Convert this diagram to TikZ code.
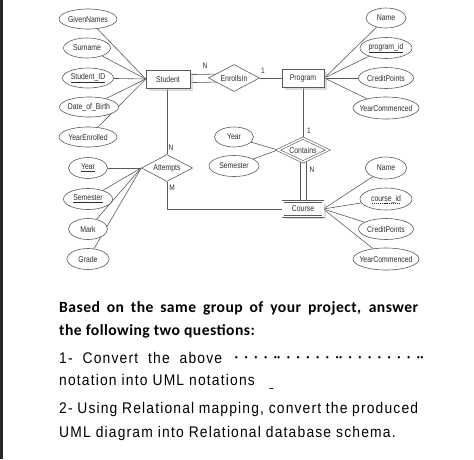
\documentclass[tikz,border=0pt]{standalone}
\usepackage{fontspec}
\usetikzlibrary{shapes.geometric,shadows,backgrounds}
\newfontfamily\erfont[FakeStretch=0.82]{Liberation Sans}
\newfontfamily\calib[LetterSpace=3]{Carlito}
\newfontfamily\narrow[FakeStretch=0.9,LetterSpace=7.6]{Liberation Sans}
\newcommand\mb[1]{\makebox[0pt]{#1}}
\newcommand\dul[1]{\setbox0=\hbox{#1}\rlap{\raisebox{-1.8pt}{\hbox to \wd0{\xleaders\hbox to 2pt{\hss\rule{1.2pt}{0.4pt}\hss}\hfill}}}\box0}
\definecolor{ink}{HTML}{2E2E2E}
\definecolor{edge}{HTML}{5A5A5A}
\begin{document}
\begin{tikzpicture}[x=1pt,y=-1pt,
 every node/.style={font=\erfont\fontsize{8.4}{9}\selectfont, text=ink},
 attr/.style={ellipse, draw=edge, line width=0.6pt, inner sep=0pt, fill=white},
 ent/.style={rectangle, draw=edge, line width=0.6pt, fill=white, inner sep=0pt, minimum height=18pt,
   drop shadow={shadow xshift=2.5pt, shadow yshift=-2.5pt, fill=gray!55}},
 rel/.style={diamond, draw=edge, line width=0.6pt, fill=white, inner sep=0pt, minimum width=51pt, minimum height=27pt},
 conn/.style={draw=edge, line width=0.6pt},
 card/.style={font=\erfont\fontsize{8}{9}\selectfont, inner sep=0pt},
 txt/.style={anchor=base west, inner sep=0pt, text=black},
 boldtxt/.style={txt, font=\calib\bfseries\fontsize{15.6}{19}\selectfont},
 narrowtxt/.style={txt, font=\narrow\fontsize{15.4}{19}\selectfont},
]
\useasboundingbox (0,0) rectangle (474,459);
\fill[black!85] (0,0) rectangle (3,459);

% entities and relationships
\node[ent, minimum width=44pt] (stu) at (168,79) {\mb{Student}};
\node[rel] (enr) at (234,78) {\mb{EnrollsIn}};
\node[ent, minimum width=42pt] (prog) at (303,78) {\mb{Program}};
\node[rel] (att) at (167,168) {\mb{Attempts}};
\node[rel, double=white, double distance=1.5pt, minimum width=50pt, minimum height=24pt] (con) at (303,150) {\mb{Contains}};
\node[ent, double=white, double distance=1.5pt, minimum width=40pt, minimum height=15pt] (crs) at (303,209) {\mb{Course}};

% Student attributes
\node[attr, minimum width=58pt, minimum height=20pt] (gn) at (88,19) {\mb{GivenNames}};
\node[attr, minimum width=47pt, minimum height=20pt] (sn) at (87,48) {\mb{Surname}};
\node[attr, minimum width=51pt, minimum height=20pt] (sid) at (88,78) {\mb{\underline{Student\_ID}}};
\node[attr, minimum width=59pt, minimum height=20pt] (dob) at (89,107) {\mb{Date\_of\_Birth}};
\node[attr, minimum width=58pt, minimum height=20pt] (ye) at (88,137) {\mb{YearEnrolled}};

% Attempts attributes
\node[attr, minimum width=39pt, minimum height=21pt] (ay) at (88,168) {\mb{\underline{Year}}};
\node[attr, minimum width=49pt, minimum height=21pt] (as) at (88,199) {\mb{\underline{Semester}}};
\node[attr, minimum width=39pt, minimum height=21pt] (am) at (88,229) {\mb{Mark}};
\node[attr, minimum width=42pt, minimum height=21pt] (ag) at (88,259) {\mb{Grade}};

% Contains attributes
\node[attr, minimum width=39pt, minimum height=20pt] (cy) at (234,137) {\mb{Year}};
\node[attr, minimum width=50pt, minimum height=21pt] (cs) at (234,166) {\mb{Semester}};

% Program attributes
\node[attr, minimum width=40pt, minimum height=20pt] (pn) at (386,18) {\mb{Name}};
\node[attr, minimum width=52pt, minimum height=21pt] (pid) at (386,48) {\mb{\underline{program\_id}}};
\node[attr, minimum width=55pt, minimum height=21pt] (pcp) at (386,78) {\mb{CreditPoints}};
\node[attr, minimum width=66pt, minimum height=22pt] (pyc) at (386,108) {\mb{YearCommenced}};

% Course attributes
\node[attr, minimum width=41pt, minimum height=22pt] (cn) at (386,168) {\mb{Name}};
\node[attr, minimum width=52pt, minimum height=22pt] (cid) at (386,199) {\mb{\dul{course\_id}}};
\node[attr, minimum width=55pt, minimum height=21pt] (ccp) at (386,229) {\mb{CreditPoints}};
\node[attr, minimum width=66pt, minimum height=22pt] (cyc) at (386,259) {\mb{YearCommenced}};

% connectors
\begin{scope}[on background layer]
\foreach \a in {gn,sn,sid,dob,ye} \draw[conn] (\a) -- (stu.west);
\draw[conn] ([yshift=4pt]stu.center) -- ([shift={(12pt,4pt)}]enr.west);
\draw[conn] ([yshift=-4pt]stu.center) -- ([shift={(12pt,-4pt)}]enr.west);
\draw[conn] (enr) -- (prog);
\foreach \a in {pn,pid,pcp,pyc} \draw[conn] (\a) -- (prog.east);
\draw[conn] (att.north |- stu.south) -- (att.north);
\draw[conn] (att.south) |- (crs.west);
\foreach \a in {ay,as,am,ag} \draw[conn] (\a) -- (att.west);
\foreach \a in {cy,cs} \draw[conn] (\a) -- (con.west);
\draw[conn] (prog) -- (con);
\draw[conn] ([shift={(-3pt,6pt)}]con.south) -- ([xshift=-3pt]crs.center);
\draw[conn] ([shift={(3pt,6pt)}]con.south) -- ([xshift=3pt]crs.center);
\foreach \a in {cn,cid,ccp,cyc} \draw[conn] (\a) -- (crs.east);
\end{scope}

% cardinalities
\node[card] (k1) at (205,66) {N};
\node[card] (k2) at (263,71) {1};
\node[card] (k3) at (171,148) {N};
\node[card] (k4) at (172,188) {M};
\node[card] (k5) at (309,131) {1};
\node[card] (k6) at (312,170) {N};

% question text
\node[boldtxt] (t1) at (59,312) {\makebox[359pt][s]{Based on the same group of your project, answer}};
\node[boldtxt] (t2) at (59,335) {the following two questions:};
\node[narrowtxt] (t3) at (59,363) {\makebox[163pt][s]{1- Convert the above}};
\node[txt, font=\narrow\bfseries\fontsize{8.5}{9}\selectfont] (t3d) at (235,360) {\makebox[188pt][s]{• • • • •• • • • • • •• • • • • • • • ••}};
\node[narrowtxt] (t4) at (59,385) {notation into UML notations};
\node[txt, font=\narrow\bfseries\fontsize{9}{9}\selectfont] (t4u) at (269,391) {–};
\node[narrowtxt] (t5) at (59,413) {\makebox[359pt][s]{2- Using Relational mapping, convert the produced}};
\node[narrowtxt] (t6) at (59,437) {UML diagram into Relational database schema.};
\end{tikzpicture}
\end{document}
